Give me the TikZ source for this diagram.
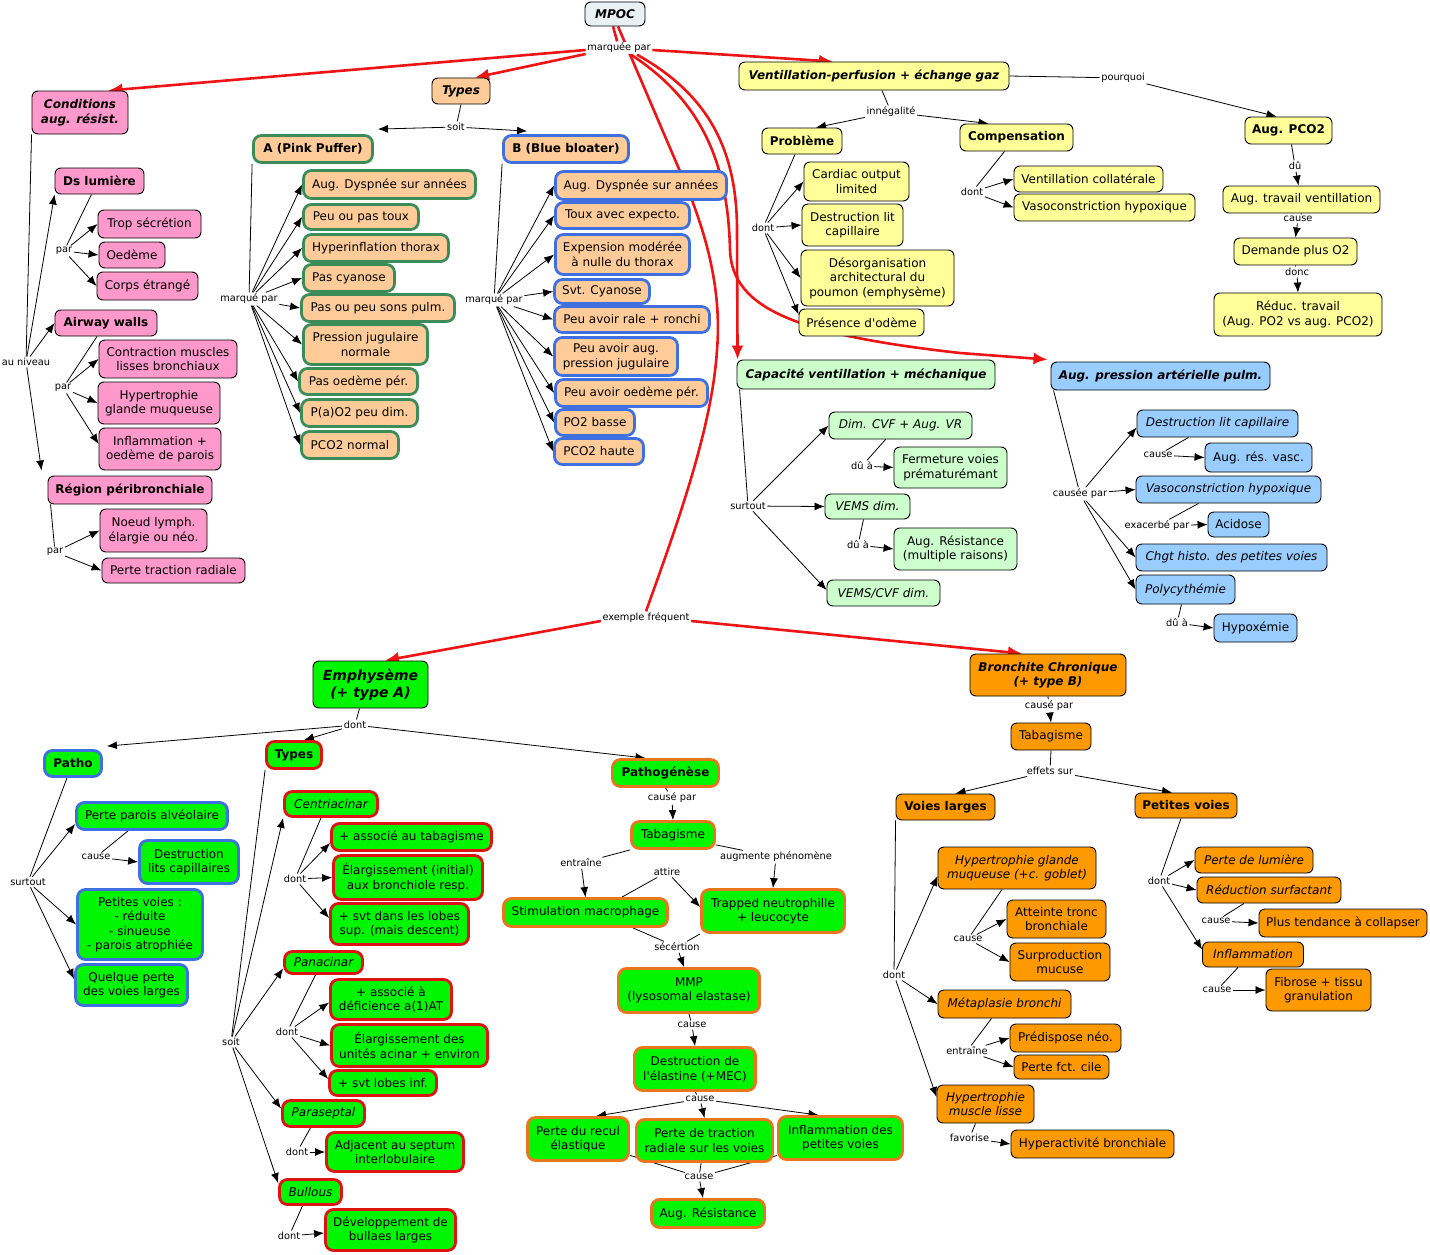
\documentclass[tikz,border=0pt]{standalone}
\usepackage{fontspec}
\setmainfont{DejaVu Sans}[Ligatures=TeXOff]
\usetikzlibrary{arrows.meta,backgrounds}
\definecolor{cpink}{RGB}{255,153,204}
\definecolor{cpeach}{RGB}{255,204,153}
\definecolor{cgreenb}{RGB}{60,140,90}
\definecolor{cblueb}{RGB}{64,112,224}
\definecolor{cyel}{RGB}{255,255,153}
\definecolor{clgreen}{RGB}{204,255,204}
\definecolor{clblue}{RGB}{153,204,255}
\definecolor{cgreen}{RGB}{0,245,0}
\definecolor{credb}{RGB}{222,20,20}
\definecolor{corangeb}{RGB}{232,118,30}
\definecolor{corange}{RGB}{255,153,0}
\definecolor{cmpoc}{RGB}{234,241,245}
\definecolor{cred}{RGB}{236,20,20}
\tikzset{
 bx/.style={draw=black, line width=0.9pt, rounded corners=6pt, align=center, inner xsep=4pt, inner ysep=2pt, font=\fontsize{12}{14.5}\selectfont},
 tk/.style={line width=2.8pt, rounded corners=8pt},
 fb/.style={font=\fontsize{12}{14.5}\selectfont\bfseries},
 fi/.style={font=\fontsize{12}{14.5}\selectfont\itshape},
 fbi/.style={font=\fontsize{12}{14.5}\selectfont\bfseries\itshape},
 pk/.style={bx, fill=cpink},
 pch/.style={bx, fill=cpeach},
 pa/.style={bx, tk, fill=cpeach, draw=cgreenb},
 pb/.style={bx, tk, fill=cpeach, draw=cblueb},
 ye/.style={bx, fill=cyel},
 lg/.style={bx, fill=clgreen},
 lb/.style={bx, fill=clblue},
 gb/.style={bx, tk, fill=cgreen, draw=cblueb},
 gr/.style={bx, tk, fill=cgreen, draw=credb},
 go/.style={bx, tk, fill=cgreen, draw=corangeb},
 orb/.style={bx, fill=corange},
 lab/.style={fill=white, inner sep=1.5pt, font=\fontsize{9.8}{11}\selectfont},
 ln/.style={line width=0.8pt, draw=black},
 ar/.style={ln, -{Latex[length=10pt,width=8pt]}},
 rl/.style={line width=2.6pt, draw=cred},
 ra/.style={rl, -{Latex[length=14pt,width=12pt]}},
}
\begin{document}
\begin{tikzpicture}[x=1pt,y=-1pt]
\useasboundingbox (0,0) rectangle (1430,1255);
% ---------- linking phrases ----------
\node[lab] (marq) at (619,48) {marquée par};
\node[lab] (auniv) at (26,362) {au niveau};
\node[lab] (par1) at (64,251) {par};
\node[lab] (par2) at (63,388) {par};
\node[lab] (par3) at (55,552) {par};
\node[lab] (soit1) at (456,127) {soit};
\node[lab] (mqA) at (249,299) {marqué par};
\node[lab] (mqB) at (494,300) {marqué par};
\node[lab] (pourq) at (1123,78) {pourquoi};
\node[lab] (ineg) at (891,112) {innégalité};
\node[lab] (dont1) at (763,228) {dont};
\node[lab] (dont2) at (972,192) {dont};
\node[lab] (du1) at (1295,166) {dû};
\node[lab] (cause1) at (1298,219) {cause};
\node[lab] (donc) at (1297,272) {donc};
\node[lab] (surt1) at (748,506) {surtout};
\node[lab] (dua1) at (862,466) {dû à};
\node[lab] (dua2) at (858,545) {dû à};
\node[lab] (causpar) at (1080,494) {causée par};
\node[lab] (cause2) at (1158,455) {cause};
\node[lab] (exac) at (1157,526) {exacerbé par};
\node[lab] (dua3) at (1177,623) {dû à};
\node[lab] (exfreq) at (646,618) {exemple fréquent};
\node[lab] (dont3) at (355,725) {dont};
\node[lab] (surt2) at (28,882) {surtout};
\node[lab] (cause3) at (96,857) {cause};
\node[lab] (soit2) at (231,1042) {soit};
\node[lab] (dont4) at (295,879) {dont};
\node[lab] (dont5) at (287,1032) {dont};
\node[lab] (dont6) at (297,1152) {dont};
\node[lab] (dont7) at (289,1236) {dont};
\node[lab] (causpar2) at (672,798) {causé par};
\node[lab] (entr1) at (581,863) {entraîne};
\node[lab] (augph) at (776,857) {augmente phénomène};
\node[lab] (attire) at (667,872) {attire};
\node[lab] (secr) at (677,947) {sécértion};
\node[lab] (cause4) at (692,1025) {cause};
\node[lab] (cause5) at (700,1099) {cause};
\node[lab] (cause6) at (699,1177) {cause};
\node[lab] (causpar3) at (1049,706) {causé par};
\node[lab] (effets) at (1050,771) {effets sur};
\node[lab] (dont8) at (894,975) {dont};
\node[lab] (cause7) at (968,939) {cause};
\node[lab] (entr2) at (967,1051) {entraîne};
\node[lab] (fav) at (969.5,1138) {favorise};
\node[lab] (dont9) at (1159,881) {dont};
\node[lab] (cause8) at (1216,921) {cause};
\node[lab] (cause9) at (1217,990) {cause};
% ---------- concepts ----------
\node[bx, fill=cmpoc, fbi, minimum width=60pt, minimum height=24pt] (mpoc) at (615,14) {MPOC};
% conditions
\node[pk, fbi, minimum width=96pt, minimum height=43pt] (cond) at (80,112.5) {Conditions\\aug. résist.};
\node[pk, fb, minimum width=89pt, minimum height=26pt] (dsl) at (99.5,181) {Ds lumière};
\node[pk, minimum width=103pt, minimum height=28pt] (trop) at (149.5,224) {Trop sécrétion};
\node[pk, minimum width=66pt, minimum height=26pt] (oed) at (132,255) {Oedème};
\node[pk, minimum width=101pt, minimum height=28pt] (corps) at (147.5,286) {Corps étrangé};
\node[pk, fb, minimum width=102pt, minimum height=26pt] (aw) at (106,323) {Airway walls};
\node[pk, minimum width=138pt, minimum height=38pt] (contr) at (168,359) {Contraction muscles\\lisses bronchiaux};
\node[pk, minimum width=122pt, minimum height=42pt] (hypg) at (159,403) {Hypertrophie\\glande muqueuse};
\node[pk, minimum width=122pt, minimum height=42pt] (infl) at (160,449) {Inflammation +\\oedème de parois};
\node[pk, fb, minimum width=164pt, minimum height=28pt] (reg) at (130,490) {Région péribronchiale};
\node[pk, minimum width=107pt, minimum height=43pt] (noeud) at (153.5,530.5) {Noeud lymph.\\élargie ou néo.};
\node[pk, minimum width=143pt, minimum height=25pt] (pertr) at (173.5,570.5) {Perte traction radiale};
% types A / B
\node[pch, fbi, minimum width=58pt, minimum height=26pt] (types) at (461,91) {Types};
\node[pa, fb, minimum width=119pt, minimum height=27pt] (A) at (313,149) {A (Pink Puffer)};
\node[pb, fb, minimum width=125pt, minimum height=27pt] (B) at (566,149) {B (Blue bloater)};
\node[pa, minimum width=172pt, minimum height=28pt] (a1) at (389.5,184.5) {Aug. Dyspnée sur années};
\node[pa, minimum width=115pt, minimum height=25pt] (a2) at (361,217) {Peu ou pas toux};
\node[pa, minimum width=145pt, minimum height=27pt] (a3) at (376,248) {Hyperinflation thorax};
\node[pa, minimum width=91pt, minimum height=27pt] (a4) at (349,278) {Pas cyanose};
\node[pa, minimum width=153pt, minimum height=27pt] (a5) at (378,308) {Pas ou peu sons pulm.};
\node[pa, minimum width=124pt, minimum height=40pt] (a6) at (365.5,344.5) {Pression jugulaire\\normale};
\node[pa, minimum width=118pt, minimum height=26pt] (a7) at (358.5,381.5) {Pas oedème pér.};
\node[pa, minimum width=116pt, minimum height=27pt] (a8) at (359.5,413) {P(a)O2 peu dim.};
\node[pa, minimum width=97pt, minimum height=27pt] (a9) at (350,445) {PCO2 normal};
\node[pb, minimum width=171pt, minimum height=28pt] (b1) at (641,185.5) {Aug. Dyspnée sur années};
\node[pb, minimum width=134pt, minimum height=26pt] (b2) at (622.5,215.5) {Toux avec expecto.};
\node[pb, minimum width=134pt, minimum height=40pt] (b3) at (622.5,254.5) {Expension modérée\\à nulle du thorax};
\node[pb, minimum width=95pt, minimum height=24pt] (b4) at (602,291.5) {Svt. Cyanose};
\node[pb, minimum width=155pt, minimum height=26pt] (b5) at (632,319.5) {Peu avoir rale + ronchi};
\node[pb, minimum width=123pt, minimum height=38pt] (b6) at (616,356.5) {Peu avoir aug.\\pression jugulaire};
\node[pb, minimum width=152pt, minimum height=27pt] (b7) at (631.5,393) {Peu avoir oedème pér.};
\node[pb, minimum width=79pt, minimum height=26pt] (b8) at (595,422.5) {PO2 basse};
\node[pb, minimum width=89pt, minimum height=26pt] (b9) at (599,451.5) {PCO2 haute};
% ventilation-perfusion
\node[ye, fbi, minimum width=270pt, minimum height=28pt] (vp) at (874,76) {Ventillation-perfusion + échange gaz};
\node[ye, fb, minimum width=80pt, minimum height=26pt] (prob) at (802,141) {Problème};
\node[ye, fb, minimum width=113pt, minimum height=27pt] (comp) at (1016.5,137.5) {Compensation};
\node[ye, minimum width=105pt, minimum height=39pt] (card) at (856.5,181.5) {Cardiac output\\limited};
\node[ye, minimum width=101pt, minimum height=42pt] (destr) at (852.5,225) {Destruction lit\\capillaire};
\node[ye, minimum width=153pt, minimum height=56pt] (desorg) at (877.5,278) {Désorganisation\\architectural du\\poumon (emphysème)};
\node[ye, minimum width=125pt, minimum height=27pt] (pres) at (861.5,322.5) {Présence d'odème};
\node[ye, minimum width=149pt, minimum height=26pt] (vcol) at (1088.5,179) {Ventillation collatérale};
\node[ye, minimum width=181pt, minimum height=27pt] (vaso1) at (1104.5,207.5) {Vasoconstriction hypoxique};
\node[ye, fb, minimum width=87pt, minimum height=27pt] (pco2) at (1288.5,130.5) {Aug. PCO2};
\node[ye, minimum width=157pt, minimum height=27pt] (travail) at (1301.5,199.5) {Aug. travail ventillation};
\node[ye, minimum width=123pt, minimum height=27pt] (dem) at (1295.5,251.5) {Demande plus O2};
\node[ye, minimum width=168pt, minimum height=43pt] (reduc) at (1298,314.5) {Réduc. travail\\(Aug. PO2 vs aug. PCO2)};
% capacite
\node[lg, fbi, minimum width=258pt, minimum height=29pt] (cap) at (866,374.5) {Capacité ventillation + méchanique};
\node[lg, fi, minimum width=143pt, minimum height=27pt] (dcvf) at (900.5,425.5) {Dim. CVF + Aug. VR};
\node[lg, minimum width=113pt, minimum height=41pt] (ferm) at (950.5,467.5) {Fermeture voies\\prématurémant};
\node[lg, fi, minimum width=85pt, minimum height=25pt] (vems) at (867.5,506.5) {VEMS dim.};
\node[lg, minimum width=123pt, minimum height=42pt] (augres1) at (955.5,549) {Aug. Résistance\\(multiple raisons)};
\node[lg, fi, minimum width=113pt, minimum height=26pt] (vcvf) at (883.5,593) {VEMS/CVF dim.};
% pression arterielle
\node[lb, fbi, minimum width=219pt, minimum height=28pt] (apap) at (1160.5,376) {Aug. pression artérielle pulm.};
\node[lb, fi, minimum width=161pt, minimum height=27pt] (dlc) at (1217.5,423.5) {Destruction lit capillaire};
\node[lb, minimum width=107pt, minimum height=29pt] (arv) at (1258.5,457.5) {Aug. rés. vasc.};
\node[lb, fi, minimum width=185pt, minimum height=27pt] (vaso2) at (1228.5,489.5) {Vasoconstriction hypoxique};
\node[lb, minimum width=61pt, minimum height=25pt] (acid) at (1238.5,524.5) {Acidose};
\node[lb, fi, minimum width=191pt, minimum height=27pt] (chgt) at (1231.5,557.5) {Chgt histo. des petites voies};
\node[lb, fi, minimum width=99pt, minimum height=29pt] (poly) at (1185.5,589.5) {Polycythémie};
\node[lb, minimum width=83pt, minimum height=28pt] (hypox) at (1255.5,628) {Hypoxémie};
% emphyseme
\node[bx, fill=cgreen, font=\fontsize{14}{17}\selectfont\bfseries\itshape, minimum width=115pt, minimum height=47pt] (emph) at (370.5,684.5) {Emphysème\\(+ type A)};
\node[gb, fb, minimum width=57pt, minimum height=26pt] (patho) at (73,763.5) {Patho};
\node[gr, fb, minimum width=55pt, minimum height=27pt] (typesE) at (294,755) {Types};
\node[go, fb, minimum width=106pt, minimum height=27pt] (pathog) at (665.5,773) {Pathogénèse};
\node[gb, minimum width=151pt, minimum height=27pt] (ppa) at (152,816) {Perte parois alvéolaire};
\node[gb, minimum width=99pt, minimum height=43pt] (dlc2) at (189,862) {Destruction\\lits capillaires};
\node[gb, minimum width=125pt, minimum height=70pt] (pv) at (140,924.5) {Petites voies :\\- réduite\\- sinueuse\\- parois atrophiée};
\node[gb, minimum width=112pt, minimum height=41pt] (qp) at (131.5,985) {Quelque perte\\des voies larges};
\node[gr, fi, minimum width=93pt, minimum height=25pt] (centri) at (331,804) {Centriacinar};
\node[gr, minimum width=160pt, minimum height=27pt] (c1) at (411.5,837) {+ associé au tabagisme};
\node[gr, minimum width=149pt, minimum height=44pt] (c2) at (408,877.5) {Élargissement (initial)\\aux bronchiole resp.};
\node[gr, minimum width=138pt, minimum height=41pt] (c3) at (399.5,924) {+ svt dans les lobes\\sup. (mais descent)};
\node[gr, fi, minimum width=78pt, minimum height=22pt] (pana) at (323.5,962.5) {Panacinar};
\node[gr, minimum width=121pt, minimum height=40pt] (p1) at (391,999.5) {+ associé à\\déficience a(1)AT};
\node[gr, minimum width=156pt, minimum height=42pt] (p2) at (409.5,1045.5) {Élargissement des\\unités acinar + environ};
\node[gr, minimum width=107pt, minimum height=25pt] (p3) at (383,1083) {+ svt lobes inf.};
\node[gr, fi, minimum width=82pt, minimum height=26pt] (para) at (323.5,1113.5) {Paraseptal};
\node[gr, minimum width=137pt, minimum height=39pt] (adj) at (395,1152) {Adjacent au septum\\interlobulaire};
\node[gr, fi, minimum width=62pt, minimum height=25pt] (bull) at (310.5,1192) {Bullous};
\node[gr, minimum width=130pt, minimum height=41pt] (dev) at (390.5,1230) {Développement de\\bullaes larges};
\node[go, minimum width=83pt, minimum height=27pt] (tab1) at (673,835) {Tabagisme};
\node[go, minimum width=164pt, minimum height=28pt] (stim) at (585.5,912.5) {Stimulation macrophage};
\node[go, minimum width=143pt, minimum height=43pt] (trap) at (773,911) {Trapped neutrophille\\+ leucocyte};
\node[go, minimum width=141pt, minimum height=44pt] (mmp) at (689,990.5) {MMP\\(lysosomal elastase)};
\node[go, minimum width=121pt, minimum height=43pt] (delast) at (695,1069) {Destruction de\\l'élastine (+MEC)};
\node[go, minimum width=101pt, minimum height=43pt] (recul) at (578,1139) {Perte du recul\\élastique};
\node[go, minimum width=136pt, minimum height=42pt] (tract) at (704.5,1140.5) {Perte de traction\\radiale sur les voies};
\node[go, minimum width=124pt, minimum height=43pt] (inflpv) at (840.5,1138) {Inflammation des\\petites voies};
\node[go, minimum width=113pt, minimum height=28pt] (augres2) at (708,1213.5) {Aug. Résistance};
% bronchite
\node[orb, fbi, minimum width=156pt, minimum height=42pt] (bron) at (1048,675) {Bronchite Chronique\\(+ type B)};
\node[orb, minimum width=80pt, minimum height=27pt] (tab2) at (1051,736.5) {Tabagisme};
\node[orb, fb, minimum width=99pt, minimum height=26pt] (vl) at (945.5,807) {Voies larges};
\node[orb, fb, minimum width=102pt, minimum height=25pt] (pvo) at (1186,805.5) {Petites voies};
\node[orb, fi, minimum width=158pt, minimum height=42pt] (hgm) at (1017,868) {Hypertrophie glande\\muqueuse (+c. goblet)};
\node[orb, minimum width=99pt, minimum height=38pt] (atteinte) at (1056.5,919) {Atteinte tronc\\bronchiale};
\node[orb, minimum width=100pt, minimum height=38pt] (surprod) at (1060,962) {Surproduction\\mucuse};
\node[orb, fi, minimum width=133pt, minimum height=28pt] (metap) at (1004.5,1004) {Métaplasie bronchi};
\node[orb, minimum width=111pt, minimum height=28pt] (predis) at (1065.5,1038) {Prédispose néo.};
\node[orb, minimum width=95pt, minimum height=24pt] (pfc) at (1061.5,1067) {Perte fct. cile};
\node[orb, fi, minimum width=97pt, minimum height=38pt] (hml) at (985.5,1104) {Hypertrophie\\muscle lisse};
\node[orb, minimum width=163pt, minimum height=28pt] (hyperact) at (1092.5,1144) {Hyperactivité bronchiale};
\node[orb, fi, minimum width=118pt, minimum height=26pt] (pdl) at (1254,860) {Perte de lumière};
\node[orb, fi, minimum width=144pt, minimum height=26pt] (redsurf) at (1269,890) {Réduction surfactant};
\node[orb, minimum width=168pt, minimum height=28pt] (plustend) at (1343,923) {Plus tendance à collapser};
\node[orb, fi, minimum width=101pt, minimum height=25pt] (inflam2) at (1253,954.5) {Inflammation};
\node[orb, minimum width=105pt, minimum height=42pt] (fibrose) at (1318.5,990) {Fibrose + tissu\\granulation};
% ---------- connectors ----------
\begin{scope}[on background layer]
\fill[white] (0,0) rectangle (1430,1255);
% red
\draw[rl] ([xshift=-2pt]mpoc.south) -- (marq);
\draw[ra] ([yshift=-2pt]marq.west) -- ([xshift=-20pt]cond.north east);
\draw[ra] ([yshift=-6pt]marq.west) -- ([xshift=14pt]types.north);
\draw[ra] ([yshift=-2pt]marq.east) -- ([xshift=-41pt]vp.north);
\draw[ra] ([xshift=18pt]marq.south) .. controls (700,90) and (737,140) .. (737,230) -- ([xshift=1pt]cap.north west);
\draw[ra] ([xshift=12pt]marq.south) .. controls (700,100) and (728,160) .. (730,250) .. controls (732,310) and (800,335) .. (960,353) -- ([xshift=-3pt,yshift=2pt]apap.north west);
\draw[rl] ([xshift=3pt]mpoc.south) -- (688,190) .. controls (706,235) and (722,290) .. (717,350) .. controls (712,430) and (675,530) .. (exfreq.north);
\draw[ra] ([yshift=-3pt]exfreq.west) -- ([xshift=14.5pt]emph.north);
\draw[ra] ([yshift=-3pt]exfreq.east) -- ([xshift=-26pt]bron.north);
% conditions
\draw[ln] (cond.south west) -- (auniv);
\draw[ar] (auniv) -- (dsl.south west);
\draw[ar] (auniv) -- (aw.west);
\draw[ar] (auniv) -- ([xshift=-6pt,yshift=5pt]reg.north west);
\draw[ln] ([xshift=-8pt]dsl.south) -- (par1);
\draw[ar] (par1) -- (trop.west);
\draw[ar] (par1) -- (oed.west);
\draw[ar] (par1) -- (corps.west);
\draw[ln] ([xshift=-9pt]aw.south) -- (par2);
\draw[ar] (par2) -- (contr.west);
\draw[ar] (par2) -- (hypg.west);
\draw[ar] (par2) -- ([yshift=5pt]infl.west);
\draw[ln] ([xshift=3pt]reg.south west) -- (par3);
\draw[ar] (par3) -- (noeud.west);
\draw[ar] (par3) -- (pertr.west);
% types
\draw[ln] (types.south) -- (soit1);
\draw[ar] (soit1) -- ([xshift=4pt,yshift=5pt]A.north east);
\draw[ar] (soit1) -- ([xshift=25pt,yshift=3pt]B.north west);
\draw[ln] (A.south west) -- (mqA);
\foreach \n in {a1,a2,a3,a4,a5,a6,a7,a8,a9} \draw[ar] (mqA) -- (\n.west);
\draw[ln] (B.south west) -- (mqB);
\foreach \n in {b1,b2,b3,b4,b5,b6,b7,b8,b9} \draw[ar] (mqB) -- (\n.west);
% ventilation-perfusion
\draw[ln] (vp.east) -- (pourq);
\draw[ar] (pourq) -- ([xshift=-12pt]pco2.north);
\draw[ln] ([xshift=8pt]vp.south) -- (ineg);
\draw[ar] (ineg) -- ([xshift=14pt]prob.north);
\draw[ar] (ineg) -- ([xshift=-28pt]comp.north);
\draw[ln] ([xshift=-7pt]prob.south) -- (dont1);
\draw[ar] (dont1) -- (card.west);
\draw[ar] (dont1) -- (destr.west);
\draw[ar] (dont1) -- (desorg.west);
\draw[ar] (dont1) -- ([yshift=8pt]pres.west);
\draw[ln] ([xshift=-12pt]comp.south) -- (dont2);
\draw[ar] (dont2) -- (vcol.west);
\draw[ar] (dont2) -- (vaso1.west);
\draw[ln] ([xshift=3pt]pco2.south) -- (du1);
\draw[ar] (du1) -- ([xshift=-3pt]travail.north);
\draw[ln] (travail.south) -- (cause1);
\draw[ar] (cause1) -- (dem.north);
\draw[ln] (dem.south) -- (donc);
\draw[ar] (donc) -- (reduc.north);
% capacite
\draw[ln] ([xshift=3pt]cap.south west) -- (surt1);
\draw[ar] (surt1) -- (dcvf.west);
\draw[ar] (surt1) -- (vems.west);
\draw[ar] (surt1) -- ([yshift=3pt]vcvf.west);
\draw[ln] ([xshift=-15pt]dcvf.south) -- (dua1);
\draw[ar] (dua1) -- (ferm.west);
\draw[ln] ([xshift=-4pt]vems.south) -- (dua2);
\draw[ar] (dua2) -- (augres1.west);
% pression
\draw[ln] ([xshift=3pt]apap.south west) -- (causpar);
\draw[ar] (causpar) -- ([yshift=-4pt]dlc.west);
\draw[ar] (causpar) -- (vaso2.west);
\draw[ar] (causpar) -- (chgt.west);
\draw[ar] (causpar) -- (poly.west);
\draw[ln] ([xshift=-29pt]dlc.south) -- (cause2);
\draw[ar] (cause2) -- (arv.west);
\draw[ln] ([xshift=-30pt]vaso2.south) -- (exac);
\draw[ar] (exac) -- (acid.west);
\draw[ln] ([xshift=-4pt]poly.south) -- (dua3);
\draw[ar] (dua3) -- (hypox.west);
% emphyseme
\draw[ln] ([xshift=-11pt]emph.south) -- (dont3);
\draw[ar] (dont3) -- ([xshift=4pt,yshift=3pt]patho.north east);
\draw[ar] (dont3) -- ([xshift=10pt]typesE.north);
\draw[ar] (dont3) -- ([xshift=-20pt]pathog.north);
\draw[ln] ([xshift=-6pt]patho.south) -- (surt2);
\draw[ar] (surt2) -- ([yshift=-8pt]ppa.west);
\draw[ar] (surt2) -- (pv.west);
\draw[ar] (surt2) -- ([yshift=6pt]qp.west);
\draw[ln] ([xshift=-24pt]ppa.south) -- (cause3);
\draw[ar] (cause3) -- (dlc2.west);
\draw[ln] (typesE.south west) -- (soit2);
\draw[ar] (soit2) -- (centri.south west);
\draw[ar] (soit2) -- ([yshift=-6pt]pana.west);
\draw[ar] (soit2) -- ([yshift=5pt]para.west);
\draw[ar] (soit2) -- ([yshift=9pt]bull.west);
\draw[ln] ([xshift=-10pt]centri.south) -- (dont4);
\draw[ar] (dont4) -- ([yshift=-6pt]c1.west);
\draw[ar] (dont4) -- (c2.west);
\draw[ar] (dont4) -- ([yshift=6pt]c3.west);
\draw[ln] ([xshift=-8pt]pana.south) -- (dont5);
\draw[ar] (dont5) -- ([yshift=-3pt]p1.west);
\draw[ar] (dont5) -- (p2.west);
\draw[ar] (dont5) -- ([yshift=4pt]p3.west);
\draw[ln] ([xshift=-13pt]para.south) -- (dont6);
\draw[ar] (dont6) -- (adj.west);
\draw[ln] ([xshift=-8pt]bull.south) -- (dont7);
\draw[ar] (dont7) -- ([yshift=-3pt]dev.west);
% pathogenese
\draw[ln] (pathog.south) -- (causpar2);
\draw[ar] (causpar2) -- (tab1.north);
\draw[ln] (tab1.south west) -- (entr1);
\draw[ar] (entr1) -- (stim.north);
\draw[ln] ([yshift=5pt]tab1.south east) -- (augph);
\draw[ar] (augph) -- (trap.north);
\draw[ln] ([xshift=-47pt]stim.north east) -- (attire);
\draw[ar] (attire) -- ([yshift=4pt]trap.west);
\draw[ln] ([xshift=-36pt]stim.south east) -- (secr);
\draw[ln] (trap.south west) -- (secr);
\draw[ar] (secr) -- ([xshift=-5pt]mmp.north);
\draw[ln] (mmp.south) -- (cause4);
\draw[ar] (cause4) -- (delast.north);
\draw[ln] (delast.south) -- (cause5);
\draw[ar] (cause5) -- ([xshift=18pt]recul.north);
\draw[ar] (cause5) -- (tract.north);
\draw[ar] (cause5) -- ([xshift=-22pt]inflpv.north);
\draw[ln] (recul) -- (cause6);
\draw[ln] (tract) -- (cause6);
\draw[ln] (inflpv) -- (cause6);
\draw[ar] (cause6) -- ([xshift=-5pt]augres2.north);
% bronchite
\draw[ln] (bron.south) -- (causpar3);
\draw[ar] (causpar3) -- (tab2.north);
\draw[ln] (tab2.south) -- (effets);
\draw[ar] (effets) -- ([xshift=10pt]vl.north);
\draw[ar] (effets) -- ([xshift=-14pt]pvo.north);
\draw[ln] (vl.south west) -- (dont8);
\draw[ar] (dont8) -- ([yshift=-8pt]hgm.west);
\draw[ar] (dont8) -- (metap.west);
\draw[ar] (dont8) -- ([yshift=7pt]hml.west);
\draw[ln] ([xshift=-15pt]hgm.south) -- (cause7);
\draw[ar] (cause7) -- (atteinte.west);
\draw[ar] (cause7) -- (surprod.west);
\draw[ln] ([xshift=-13pt]metap.south) -- (entr2);
\draw[ar] (entr2) -- (predis.west);
\draw[ar] (entr2) -- (pfc.west);
\draw[ln] ([xshift=-10pt]hml.south) -- (fav);
\draw[ar] (fav) -- (hyperact.west);
\draw[ln] ([xshift=-5pt]pvo.south) -- (dont9);
\draw[ar] (dont9) -- (pdl.west);
\draw[ar] (dont9) -- (redsurf.west);
\draw[ar] (dont9) -- ([yshift=5pt]inflam2.west);
\draw[ln] ([xshift=-25pt]redsurf.south) -- (cause8);
\draw[ar] (cause8) -- (plustend.west);
\draw[ln] ([xshift=-15pt]inflam2.south) -- (cause9);
\draw[ar] (cause9) -- (fibrose.west);
\end{scope}
\end{tikzpicture}
\end{document}
